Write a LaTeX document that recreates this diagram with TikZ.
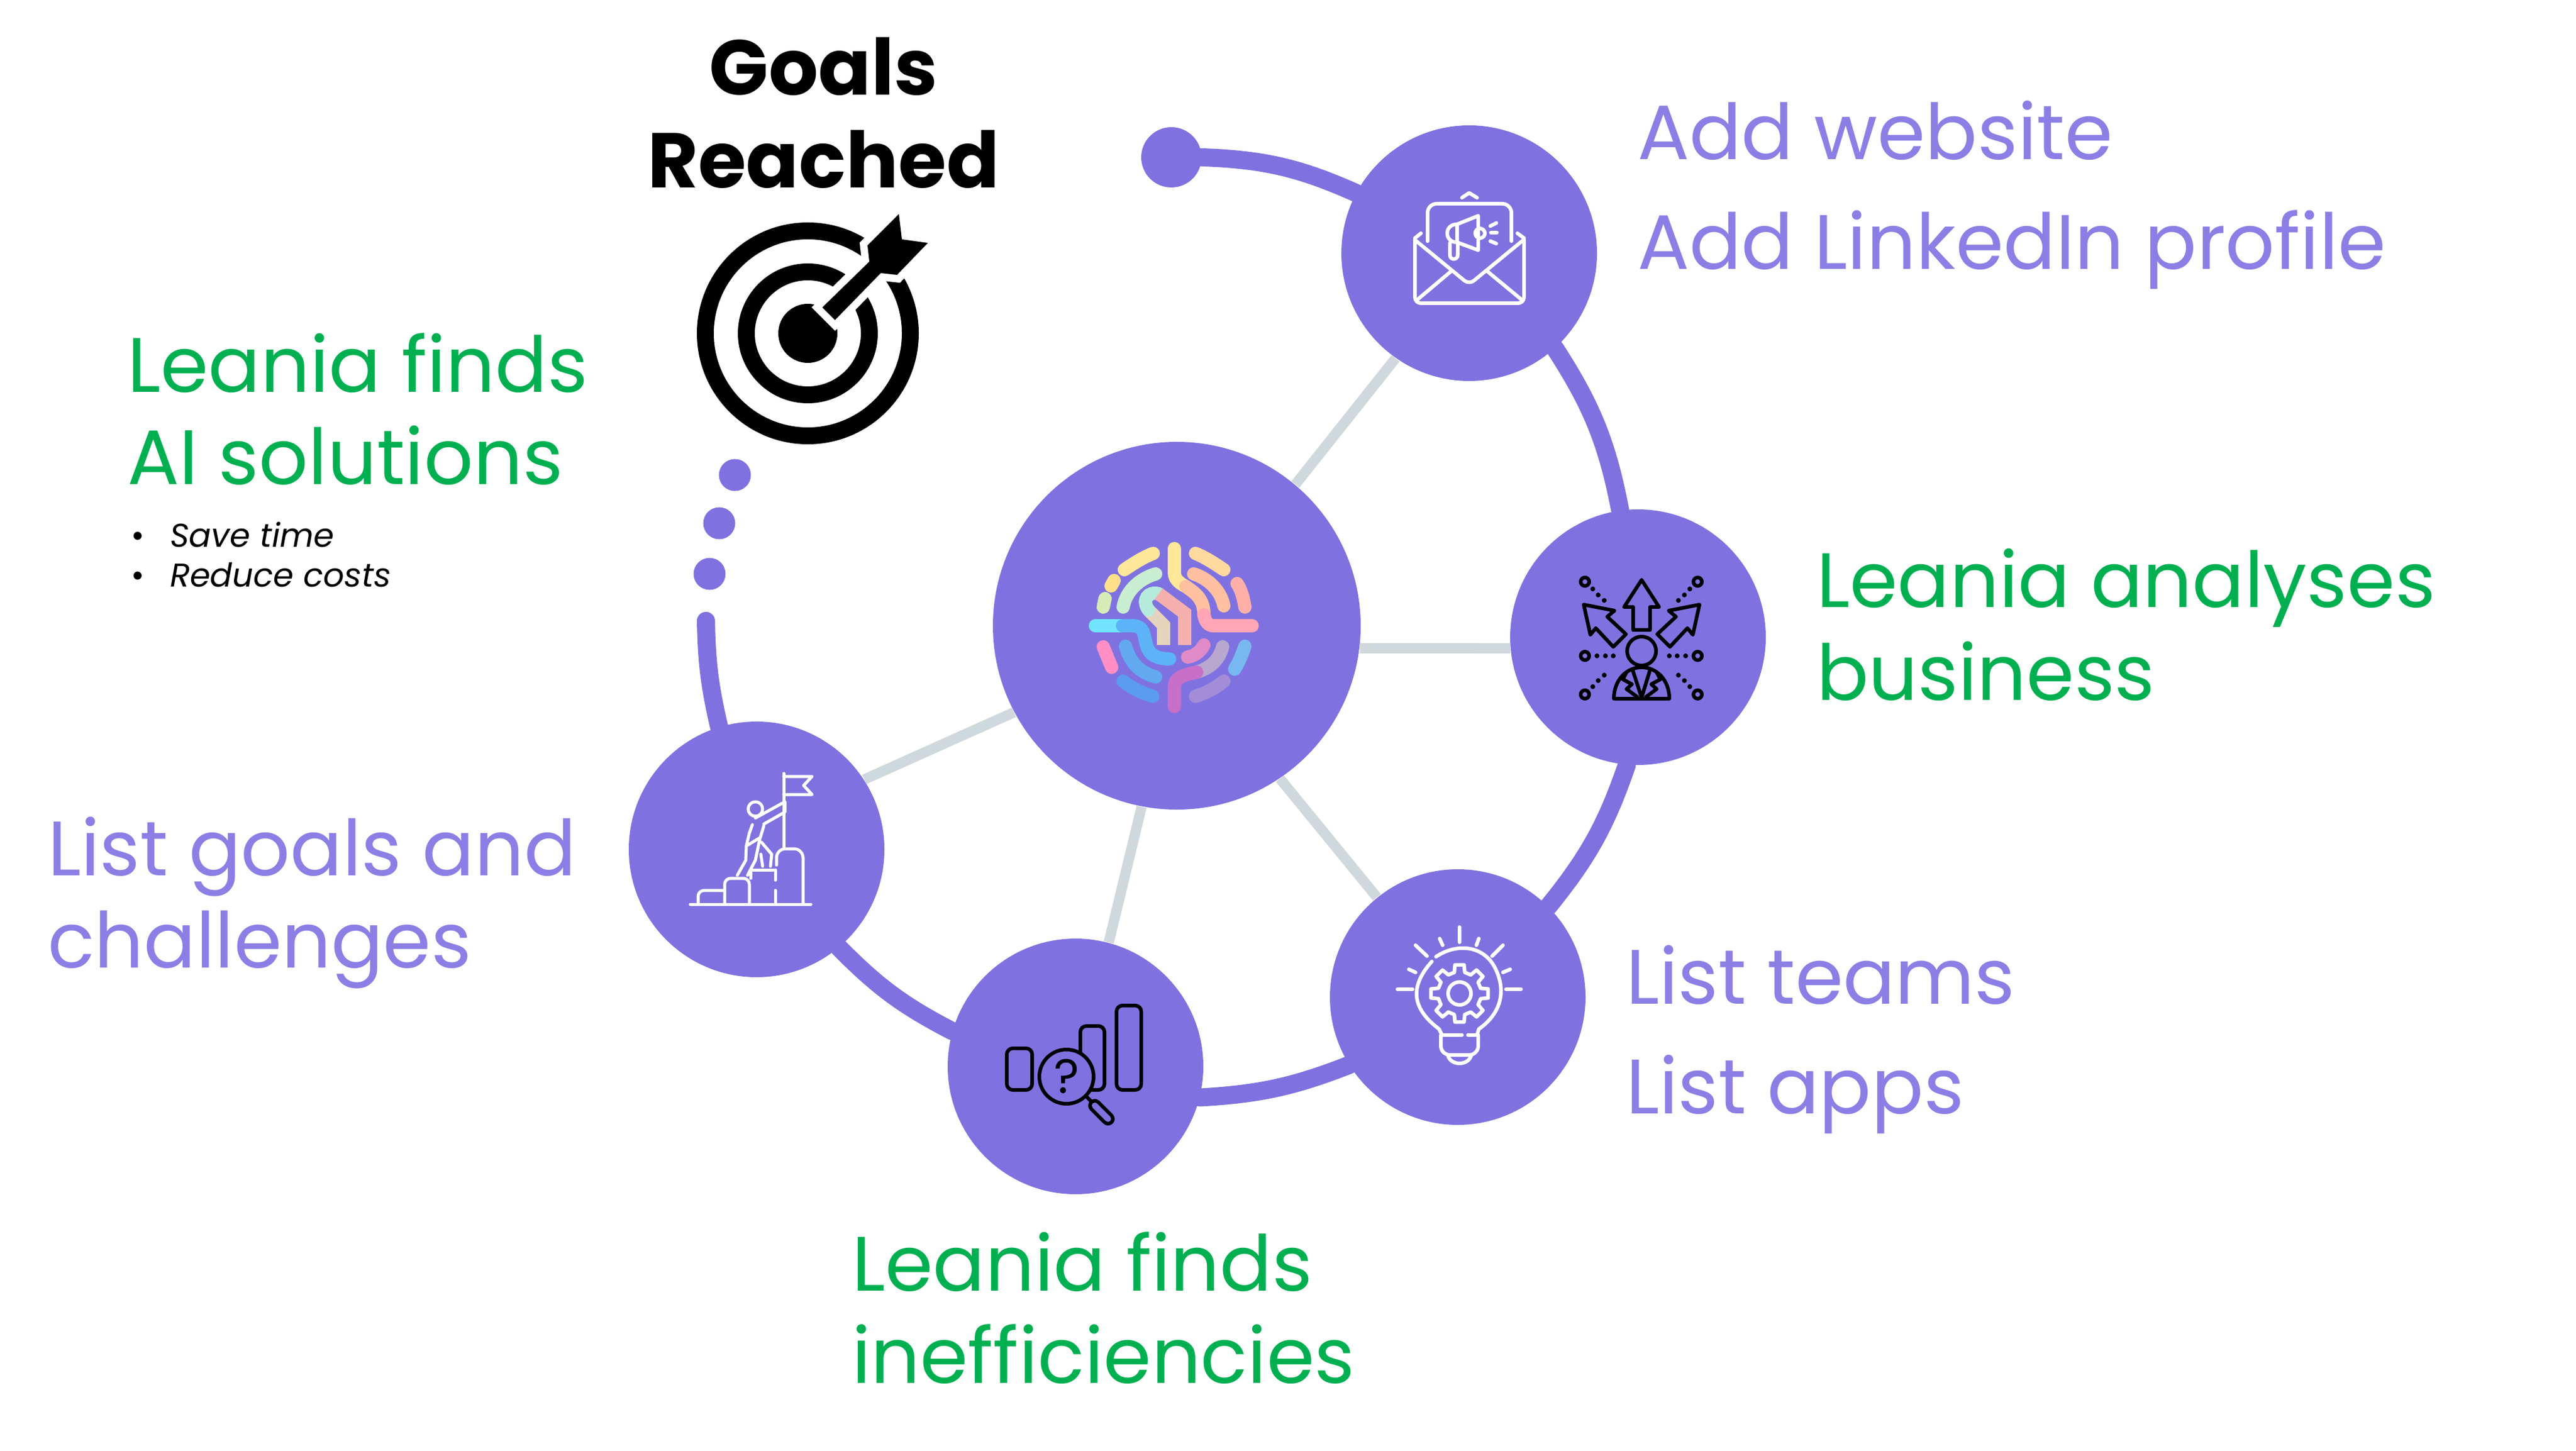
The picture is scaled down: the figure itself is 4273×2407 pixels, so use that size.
\documentclass[tikz,border=0pt]{standalone}
\usepackage{fontspec}
\setmainfont{Poppins}
\definecolor{nodecol}{HTML}{7F72E0}
\definecolor{bluecol}{HTML}{8B7FE6}
\definecolor{greencol}{HTML}{00B050}
\definecolor{spokecol}{HTML}{CFD8DC}
\tikzset{
  stage/.style={circle,fill=nodecol,inner sep=0pt,minimum size=84.8pt},
  hub/.style={circle,fill=nodecol,inner sep=0pt,minimum size=122pt},
  dot/.style={circle,fill=nodecol,inner sep=0pt,minimum size=#1},
  arc/.style={draw=nodecol,line width=6pt,line cap=round},
  spoke/.style={draw=spokecol,line width=3.4pt},
  bigtext/.style={anchor=base west,inner sep=0pt,align=left,font=\fontsize{25.6pt}{30.6pt}\selectfont},
  smalltext/.style={anchor=base west,inner sep=0pt,font=\fontsize{10.9pt}{13pt}\selectfont\itshape},
  icon/.style={draw=white,line width=1.2pt,line cap=round,line join=round},
  blackicon/.style={draw=black,line width=1.2pt,line join=round},
  logo/.style={line width=4.4pt,line cap=round},
}
\begin{document}
\begin{tikzpicture}[x=0.2pt,y=-0.2pt]
  \useasboundingbox (0,0) rectangle (4273,2407);
  % Node: core and stages
  \node[hub] (core) at (1952,1038) {};
  \node[stage] (website) at (2437,420) {};
  \node[stage] (analyse) at (2717,1057) {};
  \node[stage] (teams) at (2418,1654) {};
  \node[stage] (ineff) at (1784,1769) {};
  \node[stage] (goals) at (1255,1409) {};
  \node[dot=20pt] (start) at (1943,261) {};
  \node[dot=10.6pt] (dotone) at (1219,788) {};
  \node[dot=10.6pt] (dottwo) at (1193,868) {};
  \node[dot=10.6pt] (dotthree) at (1177,952) {};
  \coordinate (finish) at (1171,1030);
  % Edge: core -> stages
  \draw[spoke] (core.50) -- (website.235);
  \draw[spoke] (core.-7) -- (analyse.185);
  \draw[spoke] (core.-56) -- (teams.129);
  \draw[spoke] (core.-101) -- (ineff.75);
  \draw[spoke] (core.208) -- (goals.33);
  % Edge: stage -> stage
  \draw[arc] (start.0) to[bend left=11] (website.152);
  \draw[arc] (website.-48) to[bend left=11] (analyse.98);
  \draw[arc] (analyse.265) to[bend left=10] (teams.45);
  \draw[arc] (teams.212) to[bend left=9] (ineff.-14);
  \draw[arc] (ineff.164) to[bend left=9] (goals.-50);
  \draw[arc] (goals.107) to[bend left=6] (finish);
  % Node: labels
  \node[bigtext,text=bluecol] (websitetext) at (2715,447) {Add website\\[5.8pt]Add LinkedIn profile};
  \node[bigtext,text=greencol] (analysetext) at (3012,1161) {Leania analyses\\business};
  \node[bigtext,text=bluecol] (teamstext) at (2696,1847) {List teams\\[5.8pt]List apps};
  \node[bigtext,text=greencol] (inefftext) at (1412,2294) {Leania finds\\inefficiencies};
  \node[bigtext,text=bluecol] (goalstext) at (78,1605) {List goals and\\challenges};
  \node[bigtext,text=greencol] (solutionstext) at (210,804) {Leania finds\\AI solutions};
  \node[smalltext] (bulletone) at (216,908) {\upshape •};
  \node[smalltext] (bullettwo) at (216,974) {\upshape •};
  \node[smalltext] (savetext) at (281,908) {Save time};
  \node[smalltext] (reducetext) at (281,974) {Reduce costs};
  \node[anchor=base,inner sep=0pt,align=center,font=\fontsize{25.8pt}{30.8pt}\selectfont\bfseries] (reached) at (1366,312) {Goals\\Reached};
  % Node: target
  \begin{scope}
    \draw[line width=5.6pt] (1340,553) circle (170);
    \draw[line width=5.6pt] (1340,553) circle (102);
    \fill (1340,553) circle (49);
    \fill[preaction={draw=white,line width=5pt}] (1364,510) -- (1442,434) -- (1439,407) -- (1491,355) -- (1496,397) -- (1539,403) -- (1488,456) -- (1461,453) -- (1385,531) -- cycle;
  \end{scope}
  % Node: envelope icon
  \begin{scope}[icon]
    \draw (2347,398) -- (2347,490) [rounded corners=2pt] -- (2347,503) -- (2528,503) -- (2528,398);
    \draw[rounded corners=2pt] (2347,398) -- (2437,472) -- (2527,398);
    \draw (2350,498) -- (2407,450) (2525,498) -- (2467,450);
    \draw (2357,387) -- (2347,395) (2517,387) -- (2528,395);
    \draw[rounded corners=3pt] (2368,400) -- (2368,338) -- (2507,338) -- (2507,400);
    \draw (2425,328) -- (2437,320) -- (2450,328);
    \draw (2417,372) -- (2452,358) -- (2452,415) -- (2417,402) -- cycle;
    \draw (2417,372) .. controls (2395,372) and (2395,402) .. (2417,402);
    \draw (2405,403) -- (2405,423) .. controls (2405,432) and (2418,432) .. (2418,423) -- (2418,405);
    \draw (2455,387) circle (8);
    \draw (2472,375) -- (2482,370) (2473,386) -- (2483,386) (2472,400) -- (2482,404);
  \end{scope}
  % Node: person icon
  \begin{scope}[blackicon]
    \draw (2723,962) -- (2752,1007) -- (2737,1007) -- (2737,1045) -- (2709,1045) -- (2709,1007) -- (2694,1007) -- cycle;
    \draw (2627,1003) -- (2678,1013) -- (2666,1023) -- (2697,1052) -- (2676,1073) -- (2647,1042) -- (2638,1053) -- cycle;
    \draw (2819,1003) -- (2768,1013) -- (2780,1023) -- (2749,1052) -- (2770,1073) -- (2799,1042) -- (2808,1053) -- cycle;
    \draw (2723,1080) circle (24);
    \draw (2677,1159) .. controls (2677,1128) and (2698,1107) .. (2723,1107) .. controls (2748,1107) and (2769,1128) .. (2769,1159) -- cycle;
    \draw (2707,1108) -- (2723,1157) -- (2738,1108);
    \draw (2698,1115) -- (2692,1127) -- (2707,1135) -- (2698,1143) -- (2717,1157);
    \draw (2748,1115) -- (2754,1127) -- (2739,1135) -- (2748,1143) -- (2729,1157);
    \draw (2629,965) circle (7) (2816,965) circle (7) (2629,1088) circle (7) (2816,1088) circle (7) (2629,1152) circle (7) (2816,1152) circle (7);
    \fill (2642,977) circle (4) (2651,987) circle (4) (2661,996) circle (4);
    \fill (2803,977) circle (4) (2794,987) circle (4) (2784,996) circle (4);
    \fill (2649,1088) circle (4) (2663,1088) circle (4) (2676,1088) circle (4);
    \fill (2796,1088) circle (4) (2782,1088) circle (4) (2769,1088) circle (4);
    \fill (2642,1139) circle (4) (2651,1129) circle (4) (2661,1120) circle (4);
    \fill (2803,1139) circle (4) (2794,1129) circle (4) (2784,1120) circle (4);
  \end{scope}
  % Node: bulb icon
  \begin{scope}[icon]
    \draw (2375,1595) .. controls (2335,1640) and (2345,1675) .. (2387,1707) -- (2392,1717);
    \draw (2382,1587) .. controls (2420,1562) and (2465,1570) .. (2482,1610) .. controls (2500,1650) and (2485,1685) .. (2453,1707) -- (2450,1717);
    \draw[rounded corners=3pt] (2390,1717) -- (2390,1750) -- (2452,1750) -- (2452,1717);
    \draw (2392,1717) -- (2425,1717) (2435,1717) -- (2450,1717);
    \draw (2402,1752) .. controls (2408,1768) and (2434,1768) .. (2440,1752);
    \draw (2421,1648) circle (19);
    \foreach \a in {0,45,...,315}
      \draw[shift={(2421,1648)}] (\a-14:36) -- (\a-9:48) -- (\a+9:48) -- (\a+14:36) -- (\a+31:36);
    \draw (2421,1538) -- (2421,1563) (2388,1557) -- (2393,1568) (2453,1557) -- (2449,1568);
    \draw (2348,1568) -- (2367,1586) (2493,1568) -- (2475,1586);
    \draw (2337,1608) -- (2348,1613) (2505,1608) -- (2493,1613);
    \draw (2318,1641) -- (2343,1641) (2498,1641) -- (2523,1641);
  \end{scope}
  % Node: chart icon
  \begin{scope}[blackicon]
    \draw[rounded corners=2pt] (1670,1739) rectangle (1712,1808);
    \draw[rounded corners=2pt] (1792,1702) rectangle (1832,1808);
    \draw[rounded corners=2pt] (1852,1668) rectangle (1893,1808);
    \draw[fill=nodecol] (1769,1786) circle (45);
    \draw (1802,1819) -- (1812,1829);
    \draw[line width=4.4pt,line cap=round] (1816,1834) -- (1838,1856);
    \draw[draw=nodecol,line width=2pt,line cap=round] (1816,1834) -- (1838,1856);
  \end{scope}
  \node[anchor=base,inner sep=0pt,font=\fontsize{16pt}{18pt}\selectfont] (question) at (1769,1813) {?};
  % Node: climber icon
  \begin{scope}[icon,line width=1pt]
    \draw (1145,1500) -- (1345,1500);
    \draw[rounded corners=2pt] (1158,1498) -- (1158,1477) -- (1200,1477);
    \draw[rounded corners=2pt] (1202,1498) -- (1202,1457) -- (1243,1457) -- (1243,1498);
    \draw (1245,1457) -- (1245,1443) -- (1283,1443) (1286,1443) -- (1286,1460) (1286,1477) -- (1286,1498);
    \draw[rounded corners=3pt] (1288,1435) -- (1288,1408) -- (1332,1408) -- (1332,1498);
    \draw (1300,1405) -- (1300,1283);
    \draw (1300,1288) -- (1347,1288) -- (1333,1303) -- (1347,1318) -- (1300,1318);
    \draw (1253,1342) circle (12);
    \draw (1253,1357) -- (1302,1330) -- (1302,1347) -- (1267,1367);
    \draw (1248,1368) -- (1243,1382) -- (1238,1403) -- (1237,1427) -- (1223,1452);
    \draw (1267,1370) -- (1260,1393) -- (1253,1427) -- (1240,1452);
    \draw (1240,1402) -- (1260,1390);
    \draw (1263,1397) -- (1280,1417) -- (1278,1437);
    \draw (1262,1417) -- (1265,1437);
  \end{scope}
  % Node: core logo
  \begin{scope}[logo]
    \draw[color={rgb,255:red,255;green,231;blue,154}] (1865,945) .. controls (1880,935) and (1895,925) .. (1913,918);
    \draw[color={rgb,255:red,255;green,224;blue,138}] (1843,972) -- (1848,963);
    \draw[color={rgb,255:red,214;green,235;blue,184}] (1830,1007) -- (1833,993);
    \draw[color={rgb,255:red,200;green,237;blue,208}] (1863,1007) .. controls (1868,980) and (1890,960) .. (1917,952);
    \draw[line cap=butt,color={rgb,255:red,230;green,211;blue,188}] (1930,1070) -- (1930,1037) -- (1905,1012);
    \draw[color={rgb,255:red,180;green,235;blue,220}] (1905,1012) .. controls (1893,995) and (1905,980) .. (1922,985);
    \draw[line cap=butt,color={rgb,255:red,245;green,176;blue,174}] (1922,985) -- (1965,1017) -- (1965,1070);
    \draw[color={rgb,255:red,255;green,231;blue,154}] (1948,910) -- (1948,950) .. controls (1948,962) and (1958,968) .. (1967,973);
    \draw[color={rgb,255:red,255;green,192;blue,160}] (1967,973) .. controls (1985,985) and (1997,995) .. (1997,1020);
    \draw[color={rgb,255:red,255;green,165;blue,181}] (1997,1020) .. controls (1999,1032) and (2005,1038) .. (2013,1038) -- (2077,1038);
    \draw[color={rgb,255:red,255;green,217;blue,160}] (1983,918) .. controls (2000,925) and (2015,935) .. (2030,945);
    \draw[color={rgb,255:red,255;green,191;blue,160}] (1980,952) .. controls (2005,960) and (2025,980) .. (2030,1005);
    \draw[color={rgb,255:red,255;green,175;blue,168}] (2052,968) .. controls (2060,980) and (2063,995) .. (2065,1007);
    \draw[color={rgb,255:red,114;green,228;blue,253}] (1817,1038) -- (1862,1038);
    \draw[color={rgb,255:red,92;green,179;blue,245}] (1862,1038) -- (1880,1038) .. controls (1915,1040) and (1880,1093) .. (1940,1093);
    \draw[color={rgb,255:red,255;green,143;blue,196}] (1830,1073) -- (1844,1107);
    \draw[color={rgb,255:red,98;green,169;blue,240}] (1867,1072) .. controls (1875,1100) and (1890,1115) .. (1917,1123);
    \draw[color={rgb,255:red,91;green,155;blue,240}] (1863,1130) .. controls (1878,1142) and (1895,1150) .. (1912,1155);
    \draw[color={rgb,255:red,184;green,168;blue,207}] (1985,1115) .. controls (2008,1108) and (2022,1095) .. (2028,1073);
    \draw[color={rgb,255:red,200;green,111;blue,200}] (1948,1172) -- (1948,1140) .. controls (1948,1125) and (1960,1120) .. (1985,1115);
    \draw[color={rgb,255:red,224;green,139;blue,200}] (1970,1090) .. controls (1982,1088) and (1992,1080) .. (1997,1070);
    \draw[color={rgb,255:red,164;green,141;blue,216}] (1983,1155) .. controls (2000,1150) and (2015,1142) .. (2030,1130);
    \draw[color={rgb,255:red,120;green,184;blue,240}] (2065,1072) .. controls (2060,1087) and (2055,1098) .. (2048,1110);
  \end{scope}
\end{tikzpicture}
\end{document}
